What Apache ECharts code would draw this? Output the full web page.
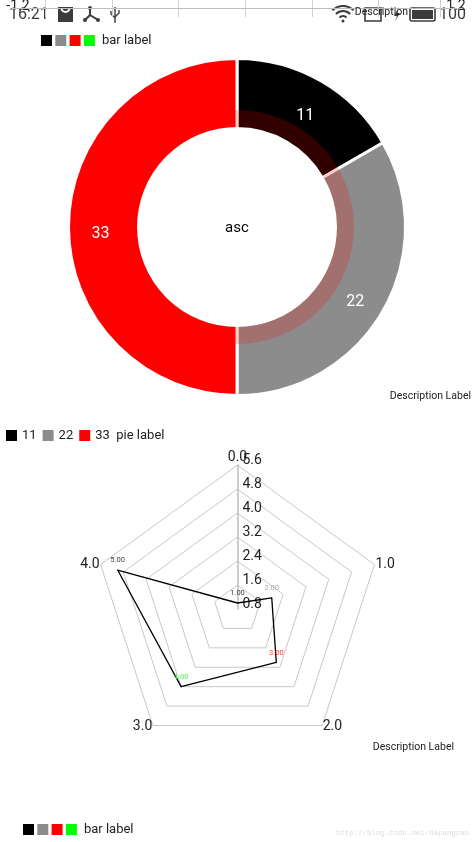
<!DOCTYPE html>
<html>
<head>
<meta charset="utf-8">
<title>chart</title>
<style>
  html, body { margin: 0; padding: 0; background: #fff; }
  #chart { width: 474px; height: 842px; }
</style>
<script src="https://cdn.jsdelivr.net/npm/echarts@6/dist/echarts.min.js"></script>
</head>
<body>
<div id="chart"></div>
<script>
(function() {
  'use strict';

  // ----- data -----
  var barNames = ['a', 'b', 'c', 'bar label'];
  var topTicks = [33, 100, 166, 233, 300, 366, 428];
  var topEndLabels = ['-1.2', '1.2'];

  var pieNames = ['11', '22', '33'];
  var pieValues = [11, 22, 33];
  var ringValue = [66];

  // radar runs counterclockwise, so the spokes are listed 0, 4, 3, 2, 1
  var radarNames = ['0.0', '4.0', '3.0', '2.0', '1.0'];
  var radarValues = [1, 5, 4, 3, 2];
  var radarMin = 0.8;
  var radarMax = 5.6;

  // ----- styles -----
  var font = 'Roboto';
  var ink = '#222';
  var statusInk = '#3c3c3c';
  var barColors = ['#000000', '#8c8c8c', '#ff0000', '#00ff00'];
  var pieColors = ['#000000', '#8c8c8c', '#ff0000'];
  var pointRich = {
    p0: { color: '#444', fontSize: 7.5, fontFamily: font },
    p1: { color: '#444', fontSize: 7.5, fontFamily: font },
    p2: { color: '#40ff40', fontSize: 7.5, fontFamily: font },
    p3: { color: '#ff4040', fontSize: 7.5, fontFamily: font },
    p4: { color: '#aaa', fontSize: 7.5, fontFamily: font }
  };

  function barLegend(left, top) {
    return {
      left: left,
      top: top,
      padding: 0,
      icon: 'rect',
      itemWidth: 11,
      itemHeight: 11,
      itemGap: 3.3,
      selectedMode: false,
      data: barNames,
      textStyle: { color: ink, fontFamily: font, fontSize: 13, padding: [0, 0, 0, 2] },
      formatter: function(name) { return name === 'bar label' ? name : ''; }
    };
  }

  function descTitle(text, right, top) {
    return {
      text: text,
      left: right,
      top: top,
      padding: 0,
      textAlign: 'right',
      textStyle: { color: ink, fontFamily: font, fontSize: 10.5, fontWeight: 'normal' }
    };
  }

  function statusText(text, x) {
    return {
      type: 'text',
      x: x,
      y: 15,
      style: { text: text, fill: statusInk, font: '16px ' + font, textVerticalAlign: 'middle' }
    };
  }

  function endLabel(text, x) {
    return {
      type: 'text',
      x: x,
      y: 6,
      style: { text: text, fill: ink, font: '14px ' + font, textAlign: 'center', textVerticalAlign: 'middle' }
    };
  }

  function icon(type, shape, stroke, width, fill) {
    return {
      type: type,
      shape: shape,
      style: { stroke: stroke || null, lineWidth: width || 1, fill: fill || null }
    };
  }

  function wifiArc(r) {
    return icon('arc', { cx: 343, cy: 21, r: r, startAngle: -Math.PI * 0.75, endAngle: -Math.PI * 0.25 }, statusInk, 2);
  }

  var chart = echarts.init(document.getElementById('chart'), null, { renderer: 'canvas' });

  var series = barNames.map(function(name, i) {
    return { type: 'bar', name: name, data: [], itemStyle: { color: barColors[i] } };
  });

  series.push({
    type: 'pie',
    name: 'pie label',
    center: [237, 227],
    radius: [98.5, 168.5],
    startAngle: 90,
    clockwise: true,
    silent: true,
    data: pieNames.map(function(name, i) {
      return { name: name, value: pieValues[i], itemStyle: { color: pieColors[i] } };
    }),
    itemStyle: { borderColor: '#fff', borderWidth: 3 },
    label: { position: 'inside', color: '#fff', fontFamily: font, fontSize: 16, formatter: '{c}', offset: [0, 7] },
    labelLine: { show: false }
  });

  series.push({
    type: 'pie',
    center: [237, 227],
    radius: [100, 117],
    silent: true,
    z: 3,
    data: ringValue,
    itemStyle: { color: 'rgba(255,0,0,0.2)' },
    label: { show: false },
    labelLine: { show: false }
  });

  series.push({
    type: 'radar',
    symbol: 'circle',
    symbolSize: 1,
    silent: true,
    data: [{ value: radarValues }],
    itemStyle: { color: '#000' },
    lineStyle: { color: '#000', width: 1.3 },
    label: {
      show: true,
      position: 'top',
      distance: 5,
      rich: pointRich,
      formatter: function(p) {
        return '{p' + p.dimensionIndex + '|' + radarValues[p.dimensionIndex].toFixed(2) + '}';
      }
    }
  });

  chart.setOption({
    animation: false,
    backgroundColor: '#fff',
    title: [
      { text: 'asc', left: 237, top: 228, padding: 0, textAlign: 'center', textVerticalAlign: 'middle',
        textStyle: { color: '#000', fontFamily: font, fontSize: 15, fontWeight: 'normal' } },
      descTitle('Description', 408, 7),
      descTitle('Description Label', 471, 391),
      descTitle('Description Label', 454, 742)
    ],
    legend: [
      barLegend(41, 34),
      {
        left: 6,
        top: 429,
        padding: 0,
        icon: 'rect',
        itemWidth: 11,
        itemHeight: 11,
        itemGap: 6,
        selectedMode: false,
        itemStyle: { borderWidth: 0 },
        data: pieNames,
        textStyle: { color: ink, fontFamily: font, fontSize: 13 },
        formatter: function(name) { return name === '33' ? name + '  pie label' : name; }
      },
      barLegend(23, 823)
    ],
    grid: { left: 12, right: 12, top: 0, height: 17, outerBoundsMode: 'none' },
    xAxis: {
      type: 'value',
      position: 'top',
      min: 0,
      max: 450,
      axisLine: { show: true, lineStyle: { color: '#bdbdbd' } },
      axisTick: { show: false, customValues: topTicks },
      splitLine: { show: true, lineStyle: { color: '#d0d0d0' } },
      axisLabel: { show: false }
    },
    yAxis: { type: 'value', min: -1.2, max: 1.2, show: false },
    radar: {
      center: [237.5, 609],
      radius: 144,
      startAngle: 90,
      splitNumber: 6,
      shape: 'polygon',
      nameGap: 1,
      axisName: { color: ink, fontFamily: font, fontSize: 14 },
      axisLine: { show: false },
      axisTick: { show: false },
      axisLabel: { show: false },
      splitArea: { show: false },
      splitLine: { lineStyle: { color: '#c8c8c8', width: 1 } },
      indicator: radarNames.map(function(name, i) {
        var item = { name: name, min: radarMin, max: radarMax };
        if (i === 0) {
          item.nameMoveOverlap = false;
          item.axisLine = { show: true, lineStyle: { color: '#bdbdbd', width: 1.5 } };
          item.axisLabel = {
            show: true,
            margin: -5,
            align: 'left',
            verticalAlign: 'bottom',
            lineHeight: 9,
            color: ink,
            fontFamily: font,
            fontSize: 14,
            formatter: function(v) { return (+v).toFixed(1); }
          };
        }
        return item;
      })
    },
    series: series,
    graphic: {
      elements: [
        endLabel(topEndLabels[0], 18),
        endLabel(topEndLabels[1], 456),
        statusText('16:21', 9),
        statusText('100', 439),
        // mail
        icon('rect', { x: 58, y: 7, width: 15, height: 15 }, null, 1, statusInk),
        icon('arc', { cx: 65.5, cy: 8, r: 4, startAngle: 0, endAngle: Math.PI }, '#fff', 2),
        // share
        icon('polyline', { points: [[90, 8], [90, 15], [85, 20]] }, statusInk, 2),
        icon('line', { x1: 90, y1: 15, x2: 98, y2: 20 }, statusInk, 2),
        icon('circle', { cx: 90, cy: 8, r: 2 }, null, 1, statusInk),
        icon('circle', { cx: 85, cy: 20, r: 2 }, null, 1, statusInk),
        icon('circle', { cx: 98, cy: 20, r: 2 }, null, 1, statusInk),
        // usb
        icon('line', { x1: 115, y1: 7, x2: 115, y2: 23 }, statusInk, 1.4),
        icon('polyline', { points: [[111, 11], [111, 14], [115, 18]] }, statusInk, 1.4),
        icon('polyline', { points: [[119, 10], [119, 13], [115, 17]] }, statusInk, 1.4),
        // wifi
        wifiArc(15),
        wifiArc(10),
        wifiArc(5),
        icon('circle', { cx: 343, cy: 21, r: 1.5 }, null, 1, statusInk),
        // sim box
        icon('rect', { x: 365, y: 8, width: 16, height: 13 }, statusInk, 1.6),
        // charge
        icon('polygon', { points: [[398, 9], [394, 16], [397, 16], [395, 21], [400, 13], [397, 13]] }, null, 1, statusInk),
        // battery
        icon('rect', { x: 410, y: 8, width: 25, height: 13, r: 2 }, statusInk, 1.6),
        icon('rect', { x: 412, y: 10, width: 21, height: 9 }, null, 1, statusInk),
        // watermark
        {
          type: 'text',
          x: 336,
          y: 833,
          style: {
            text: 'http://blog.csdn.net/dapangzao',
            fill: '#dcdcdc',
            font: '7.4px "Liberation Mono"',
            textVerticalAlign: 'middle'
          }
        }
      ]
    }
  });

  window.addEventListener('resize', function() { chart.resize(); });
})();
</script>
</body>
</html>
